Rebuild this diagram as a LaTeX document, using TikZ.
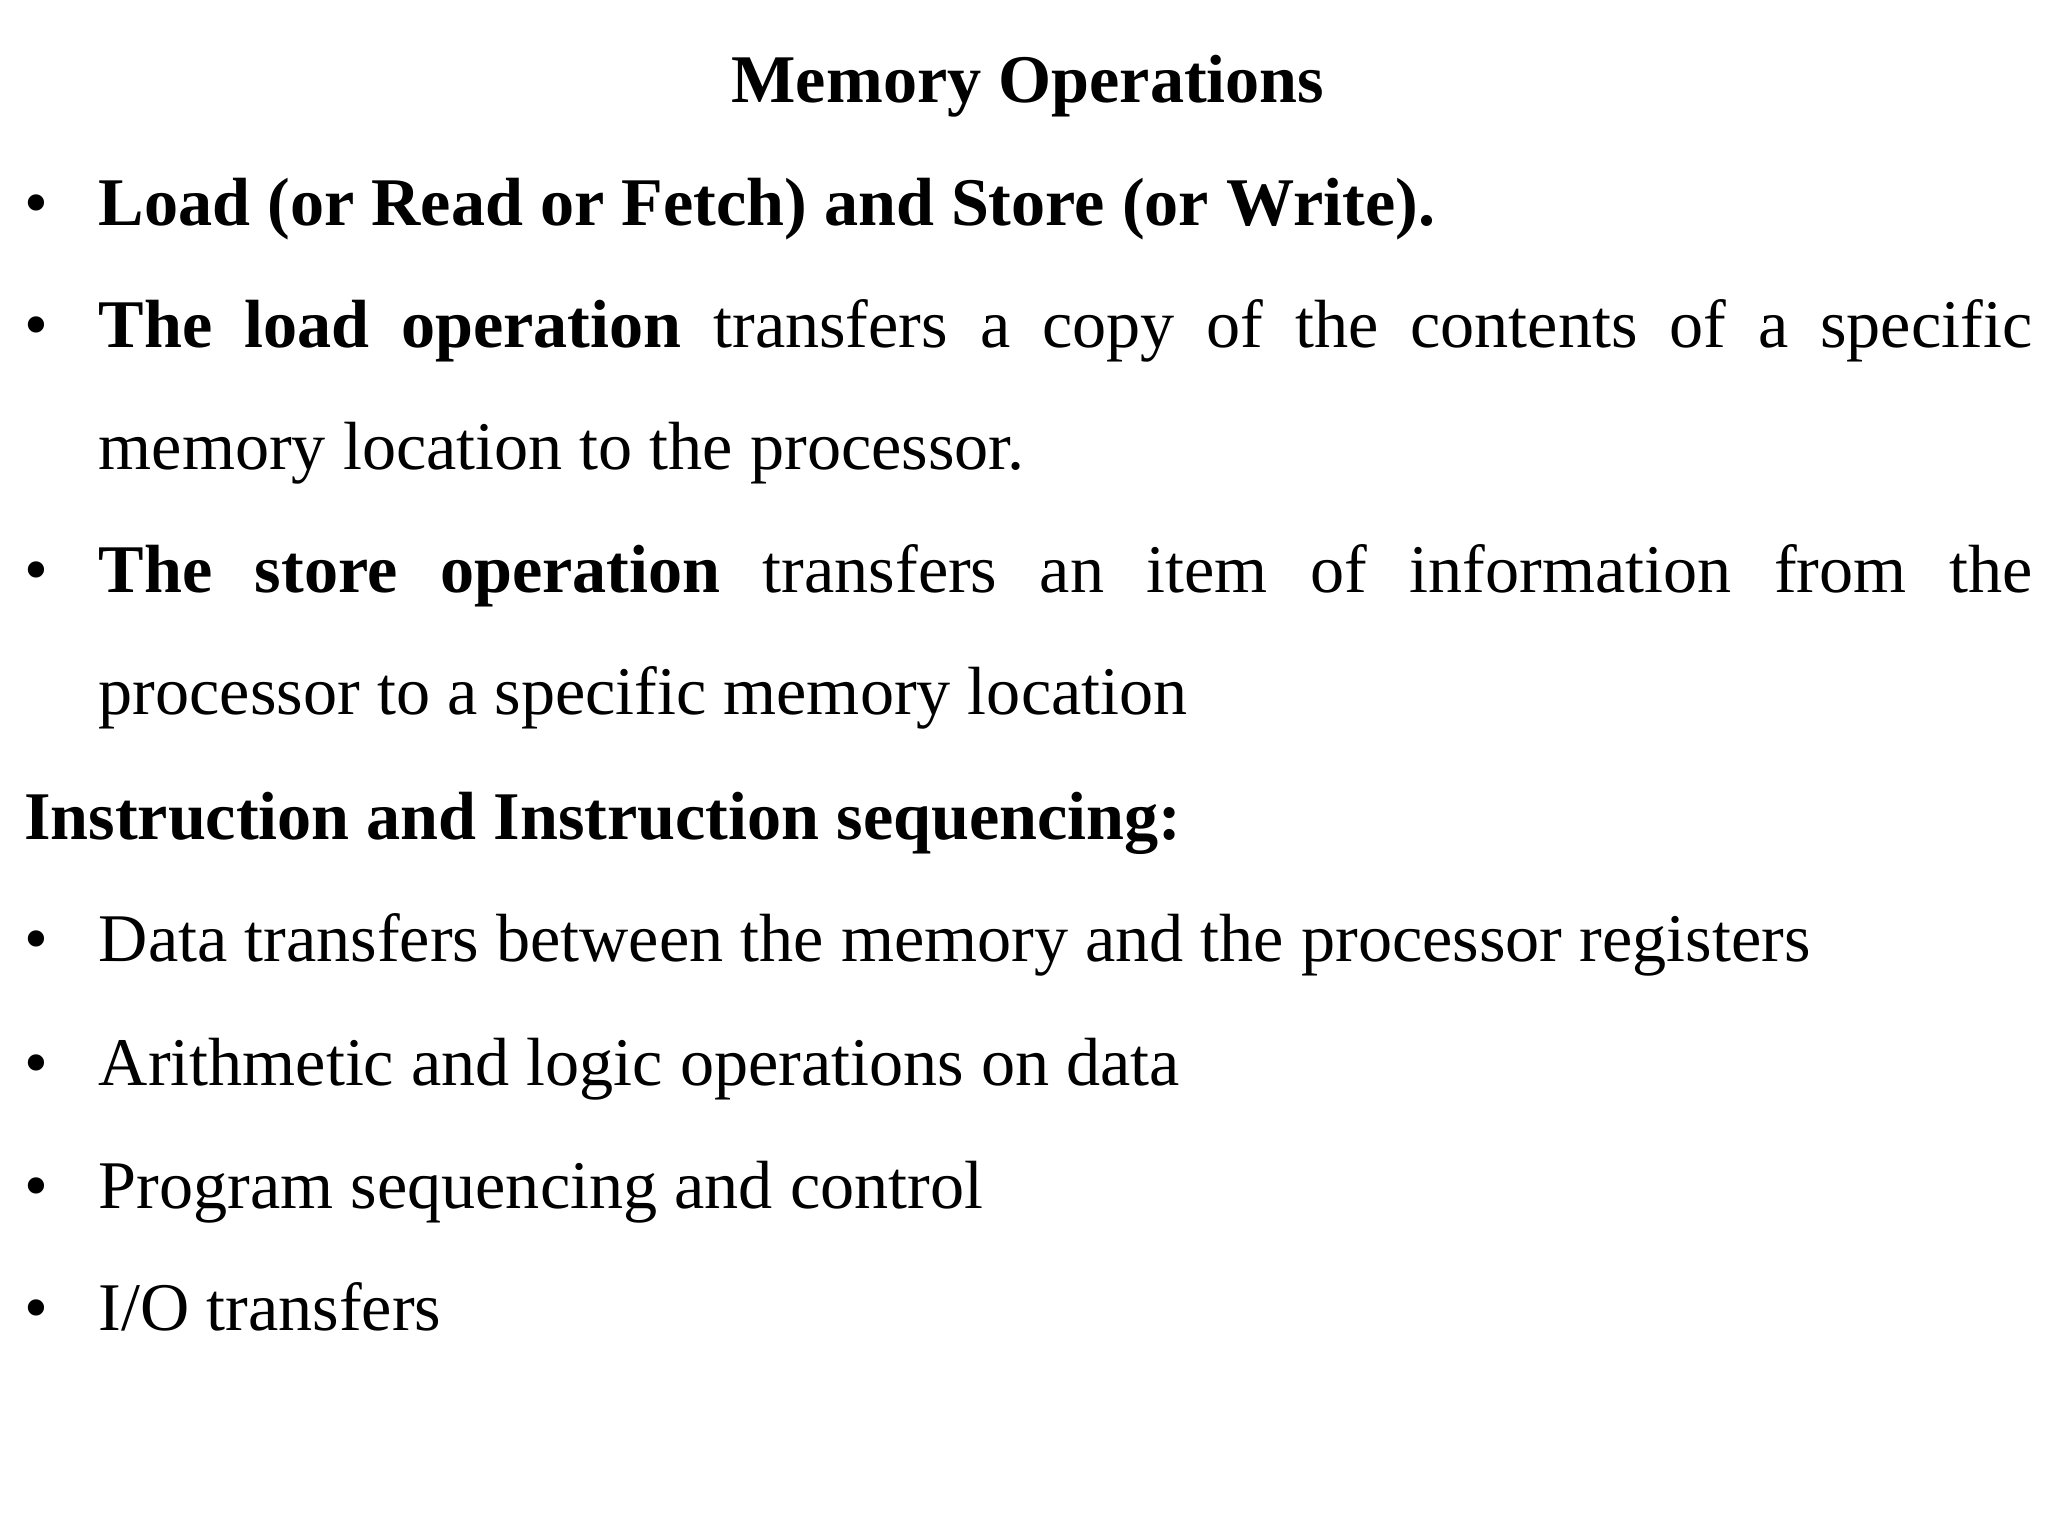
\documentclass[tikz,border=0pt]{standalone}
\usepackage{fontspec}
\setmainfont{Liberation Serif}
\begin{document}
\begin{tikzpicture}[x=0.02cm,y=-0.02cm,
  txt/.style={anchor=base west,inner sep=0pt,font=\fontsize{29.6}{34}\selectfont},
  bul/.style={anchor=base west,inner sep=0pt,font=\fontsize{29.6}{34}\selectfont}]
\useasboundingbox (0,0) rectangle (1562,1171.5);
\node[txt,anchor=base] (title) at (784,78) {\textbf{Memory Operations}};
\foreach \y/\n in {172/b1,265/b2,452/b3,733/b4,828/b5,922/b6,1015/b7}
  \node[bul] (\n) at (18,\y) {\textbullet};
\node[txt] (l1) at (75,172) {\textbf{Load (or Read or Fetch) and Store (or Write).}};
\node[txt] (l2) at (75,265) {\makebox[29.5cm][s]{\textbf{The load operation} transfers a copy of the contents of a specific}};
\node[txt] (l3) at (75,358) {memory location to the processor.};
\node[txt] (l4) at (75,452) {\makebox[29.5cm][s]{\textbf{The store operation} transfers an item of information from the}};
\node[txt] (l5) at (75,545) {processor to a specific memory location};
\node[txt] (h) at (18,640) {\textbf{Instruction and Instruction sequencing:}};
\node[txt] (l6) at (75,733) {Data transfers between the memory and the processor registers};
\node[txt] (l7) at (75,828) {Arithmetic and logic operations on data};
\node[txt] (l8) at (75,922) {Program sequencing and control};
\node[txt] (l9) at (75,1015) {I/O transfers};
\end{tikzpicture}
\end{document}
